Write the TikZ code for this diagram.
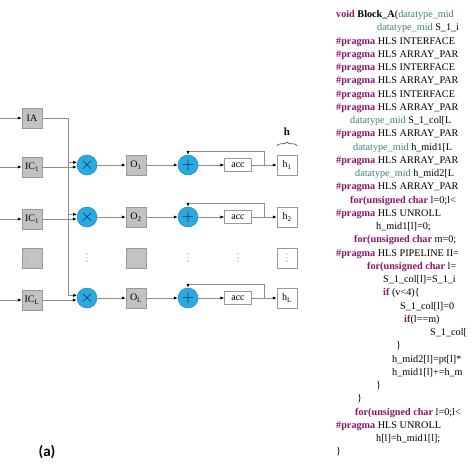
\documentclass[tikz,border=0pt]{standalone}
\usepackage{fontspec}
\setmainfont{Liberation Serif}
\newfontfamily\tagfont{Carlito}
\newfontfamily\dotfont{DejaVu Sans}
\usetikzlibrary{arrows.meta}
\usetikzlibrary{decorations.pathreplacing}

\definecolor{wiregray}{HTML}{8E8E8E}
\definecolor{opblue}{HTML}{29ABE2}
\definecolor{opedge}{HTML}{1B75BB}
\definecolor{opsym}{HTML}{1A2340}
\definecolor{boxgray}{HTML}{C2C2C2}
\definecolor{boxedge}{HTML}{999999}
\definecolor{kwpurple}{HTML}{8A1466}
\definecolor{typeteal}{HTML}{3D7F78}

\newcommand{\hlskw}[1]{\textcolor{kwpurple}{\textbf{#1}}}
\newcommand{\hlsty}[1]{\textcolor{typeteal}{#1}}
\newcommand{\vdotglyph}{{\dotfont ⋮}}

\begin{document}
\begin{tikzpicture}[x=1pt, y=-1pt,
    inbox/.style={rectangle, draw=boxedge, fill=boxgray, minimum size=20pt, inner sep=0pt, font=\fontsize{10}{10}\selectfont},
    outbox/.style={rectangle, draw=boxedge, fill=white, minimum size=20pt, inner sep=0pt, font=\fontsize{10}{10}\selectfont},
    accbox/.style={rectangle, draw=boxedge, fill=white, minimum width=27pt, minimum height=13pt, inner sep=0pt, font=\fontsize{10}{10}\selectfont},
    op/.style={circle, draw=opedge, fill=opblue, minimum size=20pt, inner sep=0pt, text=opsym, font=\fontsize{17}{17}\selectfont},
    dotsym/.style={inner sep=0pt, text=gray!55, font=\fontsize{11}{11}\selectfont},
    link/.style={draw=wiregray, line width=0.7pt},
    arr/.style={link, -{Latex[length=4pt, width=3.2pt, color=black]}},
    code/.style={anchor=base west, inner sep=0pt, font=\fontsize{10.2}{12}\selectfont}
]
\useasboundingbox (0,0) rectangle (474,474);

% Define inputs
\coordinate (srcA) at (0,118);
\node[inbox] (ia) at (32,118) {IA};
\coordinate (bus) at (68,118);
\coordinate (src1) at (0,167);
\coordinate (src2) at (0,219);
\coordinate (srcL) at (0,300);
\node[inbox] (ic1) at (32,167) {IC\textsubscript{1}};
\node[inbox] (ic2) at (32,219) {IC\textsubscript{1}};
\node[inbox, text=white!85!black, font=\fontsize{11}{11}\selectfont] (icd) at (32,258) {\vdotglyph};
\node[inbox] (icL) at (32,300) {IC\textsubscript{L}};

% Define multipliers and products
\node[op] (m1) at (87,165) {$\times$};
\node[op] (m2) at (87,217) {$\times$};
\node[dotsym] (md) at (87,258) {\vdotglyph};
\node[op] (mL) at (87,298) {$\times$};
\node[inbox] (o1) at (136,165) {O\textsubscript{1}};
\node[inbox] (o2) at (136,217) {O\textsubscript{2}};
\node[inbox, text=white!85!black, font=\fontsize{11}{11}\selectfont] (od) at (136,258) {\vdotglyph};
\node[inbox] (oL) at (136,298) {O\textsubscript{L}};

% Define adders, accumulators and outputs
\node[op] (a1) at (188,165) {$+$};
\node[op] (a2) at (188,217) {$+$};
\node[dotsym] (ad) at (188,258) {\vdotglyph};
\node[op] (aL) at (188,298) {$+$};
\node[accbox] (acc1) at (238,165) {acc};
\node[accbox] (acc2) at (238,217) {acc};
\node[dotsym] (accd) at (238,258) {\vdotglyph};
\node[accbox] (accL) at (238,298) {acc};
\node[outbox] (h1) at (287,165) {h\textsubscript{1}};
\node[outbox] (h2) at (287,217) {h\textsubscript{2}};
\node[outbox, text=gray!55, font=\fontsize{11}{11}\selectfont] (hd) at (287,258) {\vdotglyph};
\node[outbox] (hL) at (287,298) {h\textsubscript{L}};
\node[font=\fontsize{11}{11}\selectfont\bfseries] (hlab) at (287,132) {h};
\coordinate (tap1) at (264,165);
\coordinate (tap2) at (264,217);
\coordinate (tapL) at (264,298);

% Define edges
\draw[arr] (srcA) -- (ia);
\draw[link] (ia.east) -- (bus);
\draw[arr] (bus) |- (mL.165);
\draw[arr] (bus |- m1.165) -- (m1.165);
\draw[arr] (bus |- m2.165) -- (m2.165);
\draw[arr] (src1) -- (ic1);
\draw[arr] (src2) -- (ic2);
\draw[arr] (srcL) -- (icL);
\draw[arr] (ic1.east) -- (ic1.east -| m1.west);
\draw[arr] (ic2.east) -- (ic2.east -| m2.west);
\draw[arr] (icL.east) -- (icL.east -| mL.west);
\draw[arr] (m1) -- (o1);
\draw[arr] (m2) -- (o2);
\draw[arr] (mL) -- (oL);
\draw[arr] (o1) -- (a1);
\draw[arr] (o2) -- (a2);
\draw[arr] (oL) -- (aL);
\draw[arr] (a1) -- (acc1);
\draw[arr] (a2) -- (acc2);
\draw[arr] (aL) -- (accL);
\draw[arr] (acc1) -- (h1);
\draw[arr] (acc2) -- (h2);
\draw[arr] (accL) -- (hL);
\draw[arr] (tap1) -- ++(0,-14) -| (a1.north);
\draw[arr] (tap2) -- ++(0,-14) -| (a2.north);
\draw[arr] (tapL) -- ++(0,-14) -| (aL.north);
\draw[decorate, decoration={brace, amplitude=4pt}] ([yshift=9pt]h1.north west) -- ([yshift=9pt]h1.north east);

% Caption tag
\node[font=\tagfont\bfseries\fontsize{15}{15}\selectfont] (tag) at (47,452) {(a)};

% HLS code listing
\begin{scope}
\clip (300,0) rectangle (474,474);
\node[code] (c01) at (336,17.5) {\hlskw{void} \textbf{Block\_A}(\hlsty{datatype\_mid}};
\node[code] (c02) at (377,30.75) {\hlsty{datatype\_mid} S\_1\_i};
\node[code] (c03) at (336,44) {\hlskw{\#pragma} HLS INTERFACE};
\node[code] (c04) at (336,57.25) {\hlskw{\#pragma} HLS ARRAY\_PAR};
\node[code] (c05) at (336,70.5) {\hlskw{\#pragma} HLS INTERFACE};
\node[code] (c06) at (336,83.75) {\hlskw{\#pragma} HLS ARRAY\_PAR};
\node[code] (c07) at (336,97) {\hlskw{\#pragma} HLS INTERFACE};
\node[code] (c08) at (336,110.25) {\hlskw{\#pragma} HLS ARRAY\_PAR};
\node[code] (c09) at (350,123.5) {\hlsty{datatype\_mid} S\_1\_col[L};
\node[code] (c10) at (336,136.75) {\hlskw{\#pragma} HLS ARRAY\_PAR};
\node[code] (c11) at (353,150) {\hlsty{datatype\_mid} h\_mid1[L};
\node[code] (c12) at (336,163.25) {\hlskw{\#pragma} HLS ARRAY\_PAR};
\node[code] (c13) at (355,176.5) {\hlsty{datatype\_mid} h\_mid2[L};
\node[code] (c14) at (336,189.75) {\hlskw{\#pragma} HLS ARRAY\_PAR};
\node[code] (c15) at (350,203) {\hlskw{for(unsigned char} l=0;l<};
\node[code] (c16) at (336,216.25) {\hlskw{\#pragma} HLS UNROLL};
\node[code] (c17) at (376,229.5) {h\_mid1[l]=0;};
\node[code] (c18) at (354,242.75) {\hlskw{for(unsigned char} m=0;};
\node[code] (c19) at (336,256) {\hlskw{\#pragma} HLS PIPELINE II=};
\node[code] (c20) at (367,269.25) {\hlskw{for(unsigned char} l=};
\node[code] (c21) at (383,282.5) {S\_1\_col[l]=S\_1\_i};
\node[code] (c22) at (383,295.75) {\hlskw{if} (v<4)\{};
\node[code] (c23) at (400,309) {S\_1\_col[l]=0};
\node[code] (c24) at (404,322.25) {\hlskw{if}(l==m)};
\node[code] (c25) at (430,335.5) {S\_1\_col[};
\node[code] (c26) at (396,348.75) {\}};
\node[code] (c27) at (392,362) {h\_mid2[l]=pt[l]*};
\node[code] (c28) at (392,375.25) {h\_mid1[l]+=h\_m};
\node[code] (c29) at (376,388.5) {\}};
\node[code] (c30) at (357,401.75) {\}};
\node[code] (c31) at (355,415) {\hlskw{for(unsigned char} l=0;l<};
\node[code] (c32) at (336,428.25) {\hlskw{\#pragma} HLS UNROLL};
\node[code] (c33) at (376,441.5) {h[l]=h\_mid1[l];};
\node[code] (c34) at (336,454.75) {\}};
\end{scope}

\end{tikzpicture}
\end{document}
